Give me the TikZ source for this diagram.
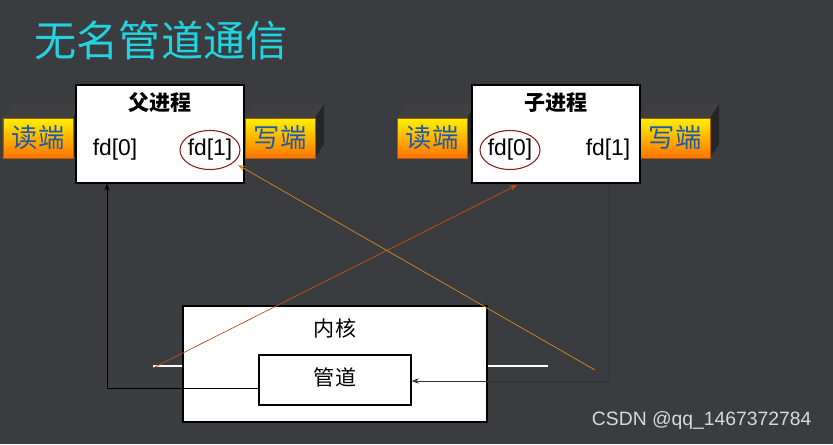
\documentclass[tikz,border=0pt]{standalone}
\usepackage{fontspec}
\setmainfont{Liberation Sans}
\newfontfamily\cjk{Noto Sans CJK SC}
\usetikzlibrary{positioning, arrows.meta, calc, shapes.geometric}
\definecolor{bgdark}{HTML}{3B3C40}
\definecolor{titlecyan}{HTML}{22D3E0}
\definecolor{endblue}{HTML}{1E5AA8}
\definecolor{linkred}{HTML}{C0501A}
\definecolor{linkorange}{HTML}{D98A20}
\definecolor{ringred}{HTML}{8B1A1A}
\begin{document}
\begin{tikzpicture}[x=0.02cm, y=-0.02cm, thick,
    proc/.style = {draw=black, fill=white, minimum width=3.36cm, minimum height=1.96cm},
    fdtext/.style = {font=\fontsize{13}{13}\selectfont},
    ring/.style = {draw=ringred, ellipse, minimum width=1.2cm, minimum height=0.78cm, semithick},
    endlabel/.style = {text=endblue, font=\cjk\fontsize{15}{15}\selectfont},
    link/.style = {thin, -{Stealth[length=4pt]}}]
    \fill[bgdark] (0,0) rectangle (833,444);
    \useasboundingbox (0,0) rectangle (833,444);
    \node[anchor=west, text=titlecyan, font=\cjk\fontsize{24}{24}\selectfont] (title) at (28,40) {无名管道通信};
    % 3D blocks for the ends
    \foreach \x/\txt/\nm in {3/读端/rl, 245/写端/wl, 397/读端/rc, 640/写端/wc} {
        \fill[black!75] (\x,118) -- (\x+9,104) -- (\x+79,104) -- (\x+70,118) -- cycle;
        \fill[black!85] (\x+70,118) -- (\x+79,104) -- (\x+79,144) -- (\x+70,158) -- cycle;
        \shade[top color=yellow!90!orange, bottom color=orange!90!red, draw=orange!70!black, thin]
            (\x,118) rectangle (\x+70,158);
        \node[endlabel] (\nm) at (\x+35,138) {\txt};
    }
    % processes
    \node[proc] (parent) at (160,134) {};
    \node[font=\cjk\bfseries\fontsize{12}{12}\selectfont, below=1pt of parent.north] (ptitle) {父进程};
    \node[fdtext] (pfd0) at (115,150) {fd[0]};
    \node[fdtext] (pfd1) at (210,150) {fd[1]};
    \node[ring] (pring) at (pfd1) {};
    \node[proc] (child) at (556,134) {};
    \node[font=\cjk\bfseries\fontsize{12}{12}\selectfont, below=1pt of child.north] (ctitle) {子进程};
    \node[fdtext] (cfd0) at (510,150) {fd[0]};
    \node[fdtext] (cfd1) at (608,150) {fd[1]};
    \node[ring] (cring) at (cfd0) {};
    % kernel
    \node[draw=black, fill=white, minimum width=6.08cm, minimum height=2.32cm] (kernel) at (335,364) {};
    \node[font=\cjk\fontsize{12}{12}\selectfont, below=4pt of kernel.north] (ktitle) {内核};
    \node[draw=black, fill=white, minimum width=3.04cm, minimum height=1cm] (pipe) at (335,380) {};
    \node[font=\cjk\fontsize{12}{12}\selectfont, below=4pt of pipe.north] (ptext) {管道};
    % connectors
    \coordinate (lcorner) at (107,388);
    \coordinate (rcorner) at (609,381);
    \draw[black, link] (pipe.west |- lcorner) -- (lcorner) -- (lcorner |- parent.south);
    \draw[black!80, link] (child.south -| rcorner) -- (rcorner) -- (pipe.east |- rcorner);
    \draw[white, semithick] (153,366) -- (kernel.west |- 0,366);
    \draw[white, semithick] (kernel.east |- 0,366) -- (548,366);
    \coordinate (lstart) at (153,368);
    \coordinate (rstart) at (595,370);
    \draw[linkred, link] (lstart) -- (517,185);
    \draw[linkorange, link] (rstart) -- (238,165);
    \node[anchor=east, text=white!85!black, font=\fontsize{11}{11}\selectfont] (mark) at (818,420) {CSDN @qq\_1467372784};
\end{tikzpicture}
\end{document}
